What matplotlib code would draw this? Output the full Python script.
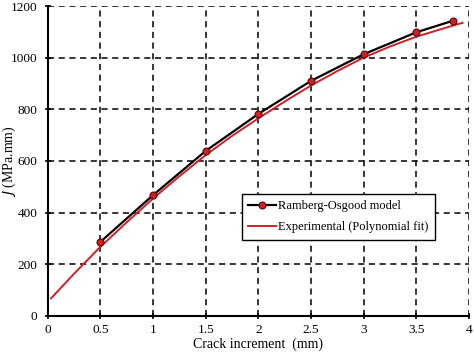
import numpy as np
import matplotlib.pyplot as plt

plt.rcParams['font.family'] = ['Liberation Serif', 'DejaVu Serif']

# Ramberg-Osgood model (points)
ro_x = [0.5, 1.0, 1.5, 2.0, 2.5, 3.0, 3.5, 3.85]
ro_j = [287, 468, 639, 782, 910, 1013, 1098, 1143]

# Experimental (polynomial fit)
exp_x = [0.03, 0.25, 0.5, 0.75, 1.0, 1.25, 1.5, 1.75, 2.0, 2.25, 2.5, 2.75, 3.0, 3.25, 3.5, 3.75, 3.94]
exp_j = [68, 164, 268, 363, 455, 541, 623, 697, 765, 830, 892, 948, 1000, 1043, 1081, 1112, 1135]

xticks = [0, 0.5, 1, 1.5, 2, 2.5, 3, 3.5, 4]
xticklabels = ['0', '0.5', '1', '1.5', '2', '2.5', '3', '3.5', '4']
yticks = [0, 200, 400, 600, 800, 1000, 1200]

fig = plt.figure(figsize=(4.74, 3.53), dpi=100)
ax = fig.add_axes([0.101, 0.105, 0.888, 0.878])

ax.plot(ro_x, ro_j, color='black', lw=1.6, marker='o', markersize=5,
        markerfacecolor='#d01f26', markeredgecolor='#5a0a0a', markeredgewidth=0.8,
        label='Ramberg-Osgood model', zorder=3)
ax.plot(exp_x, exp_j, color='#d01f26', lw=1.4,
        label='Experimental (Polynomial fit)', zorder=2)

ax.set_xlim(0, 4)
ax.set_ylim(0, 1200)
ax.set_xticks(xticks)
ax.set_xticklabels(xticklabels)
ax.set_yticks(yticks)
ax.tick_params(direction='inout', length=5, width=1.2, labelsize=9.5)
ax.tick_params(axis='y', pad=5)

ax.grid(True, color='black', linestyle=(0, (4, 3)), linewidth=1.1)
ax.set_axisbelow(True)
for s in ['top', 'right']:
    ax.spines[s].set_visible(False)
for s in ['left', 'bottom']:
    ax.spines[s].set_linewidth(1.5)

ax.set_xlabel('Crack increment  (mm)', fontsize=10)
ax.set_ylabel('$J$ (MPa.mm)', fontsize=10)
ax.xaxis.set_label_coords(0.5, -0.07)
ax.yaxis.set_label_coords(-0.072, 0.5)

leg = ax.legend(loc='upper left', bbox_to_anchor=(0.461, 0.394), fontsize=9,
                frameon=True, fancybox=False, framealpha=1, edgecolor='black',
                handlelength=2.2, handletextpad=0.2, borderpad=0.5, labelspacing=0.75,
                borderaxespad=0)
leg.get_frame().set_linewidth(1.0)

fig.savefig('out.png', dpi=100)
